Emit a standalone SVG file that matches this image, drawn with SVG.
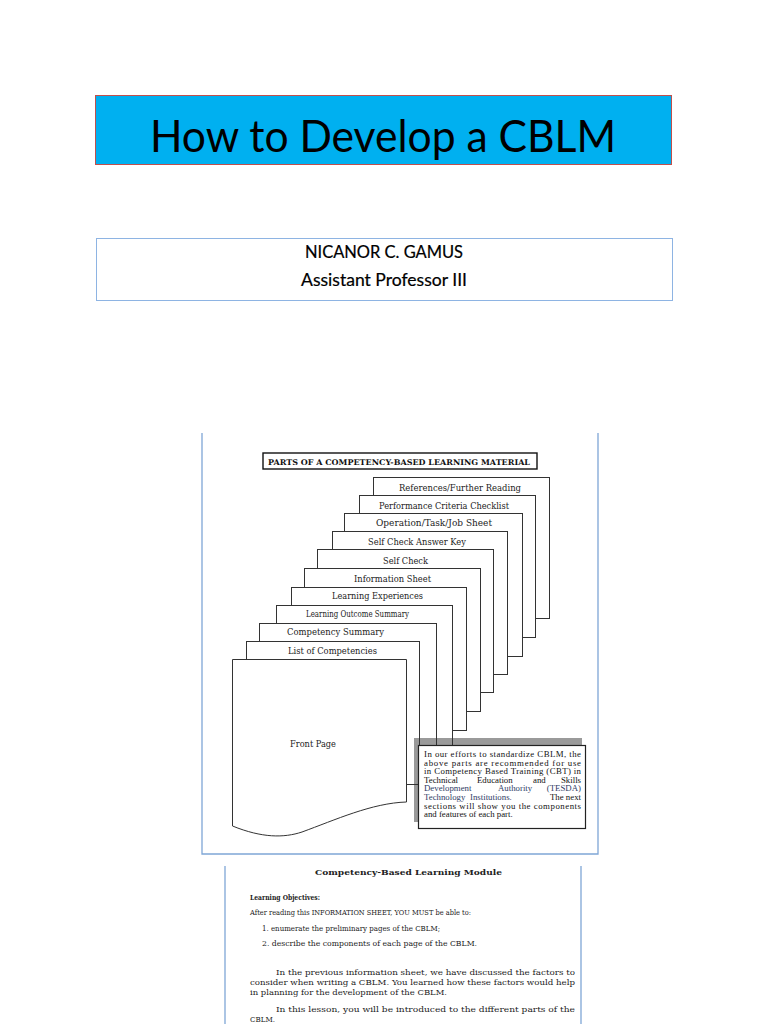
<svg xmlns="http://www.w3.org/2000/svg" width="768" height="1024" viewBox="0 0 768 1024">
<defs>
<style>
.sheet{fill:#fff;stroke:#333;stroke-width:1}
.lbl{font-family:"DejaVu Serif","Liberation Serif",serif;font-size:8.4px;fill:#222}
.doc{font-family:"DejaVu Serif","Liberation Serif",serif;font-size:8.2px;fill:#222}
.frame{stroke:#7FA6D6;stroke-width:1.3;fill:none}
.co{font-family:"Liberation Serif","DejaVu Serif",serif;font-size:8.8px;fill:#111}
.cob{fill:#2F3D66}
.hd{font-family:Lato,"Open Sans","Liberation Sans",sans-serif;fill:#000}
</style>
</defs>
<rect width="768" height="1024" fill="#fff"/>

<g id="title">
<rect x="95.5" y="95.5" width="576" height="69" fill="#00B0F0" stroke="#C0504D" stroke-width="1"/>
<text class="hd" x="383" y="152" text-anchor="middle" font-size="44" textLength="466" lengthAdjust="spacingAndGlyphs">How to Develop a CBLM</text>
</g>

<g id="author">
<rect x="96.5" y="238.5" width="576" height="62" fill="#fff" stroke="#8EB4E3" stroke-width="1"/>
<text class="hd" x="384" y="258" text-anchor="middle" font-size="16.5" stroke="#000" stroke-width="0.2" textLength="158" lengthAdjust="spacingAndGlyphs">NICANOR C. GAMUS</text>
<text class="hd" x="384" y="286" text-anchor="middle" font-size="16.5" stroke="#000" stroke-width="0.2" textLength="166" lengthAdjust="spacingAndGlyphs">Assistant Professor III</text>
</g>

<g id="upper-frame">
<polyline class="frame" points="202,433 202,854 598,854 598,433"/>
</g>

<g id="parts-title">
<rect x="263" y="453" width="274" height="16" fill="#fff" stroke="#111" stroke-width="1.4"/>
<text x="268" y="464.5" font-family="'DejaVu Serif','Liberation Serif',serif" font-size="7.8" font-weight="bold" fill="#111" textLength="262" lengthAdjust="spacingAndGlyphs">PARTS OF A COMPETENCY-BASED LEARNING MATERIAL</text>
</g>

<g id="sheets">
<g id="s-references"><rect class="sheet" x="373.5" y="477.5" width="176" height="141"/><text class="lbl" x="399" y="491" textLength="122" lengthAdjust="spacingAndGlyphs">References/Further Reading</text></g>
<g id="s-performance"><rect class="sheet" x="359.5" y="495.5" width="176" height="142"/><text class="lbl" x="379" y="509" textLength="130" lengthAdjust="spacingAndGlyphs">Performance Criteria Checklist</text></g>
<g id="s-operation"><rect class="sheet" x="344.5" y="513.5" width="178" height="143"/><text class="lbl" x="376" y="525.5" textLength="116" lengthAdjust="spacingAndGlyphs">Operation/Task/Job Sheet</text></g>
<g id="s-answerkey"><rect class="sheet" x="332.5" y="531.5" width="175" height="143"/><text class="lbl" x="368" y="544.5" textLength="98" lengthAdjust="spacingAndGlyphs">Self Check Answer Key</text></g>
<g id="s-selfcheck"><rect class="sheet" x="317.5" y="549.5" width="176" height="143"/><text class="lbl" x="383" y="564" textLength="45" lengthAdjust="spacingAndGlyphs">Self Check</text></g>
<g id="s-information"><rect class="sheet" x="304.5" y="568.5" width="176" height="143"/><text class="lbl" x="354" y="582" textLength="77" lengthAdjust="spacingAndGlyphs">Information Sheet</text></g>
<g id="s-experiences"><rect class="sheet" x="291.5" y="587.5" width="175" height="143"/><text class="lbl" x="332" y="599" textLength="91" lengthAdjust="spacingAndGlyphs">Learning Experiences</text></g>
<g id="s-outcome"><rect class="sheet" x="276.5" y="605.5" width="176" height="143"/><text class="lbl" x="306" y="617" font-size="7" textLength="103" lengthAdjust="spacingAndGlyphs">Learning Outcome Summary</text></g>
<g id="s-competency"><rect class="sheet" x="259.5" y="623.5" width="177" height="143"/><text class="lbl" x="287" y="635" textLength="97" lengthAdjust="spacingAndGlyphs">Competency Summary</text></g>
<g id="s-list"><rect class="sheet" x="246.5" y="641.5" width="173" height="143"/><text class="lbl" x="288" y="654" textLength="89" lengthAdjust="spacingAndGlyphs">List of Competencies</text></g>
<g id="s-front"><path class="sheet" d="M232.5,659.5 H406.5 V802 C372,803 335,820 302,832 C284,838 262,838 232.5,826 Z"/><text class="lbl" x="290" y="747" textLength="46" lengthAdjust="spacingAndGlyphs">Front Page</text></g>
</g>

<g id="callout">
<rect x="414" y="738" width="168" height="84" fill="#9a9a9a"/>
<g stroke="#333" stroke-width="1">
<line x1="419.5" y1="735" x2="419.5" y2="745"/>
<line x1="436.5" y1="735" x2="436.5" y2="745"/>
<line x1="452.5" y1="735" x2="452.5" y2="745"/>
<line x1="406" y1="784.5" x2="418" y2="784.5"/>
</g>
<rect x="418.5" y="745.5" width="167" height="83" fill="#fff" stroke="#222" stroke-width="1.2"/>
<text class="co" x="424" y="757" textLength="157" lengthAdjust="spacing">In our efforts to standardize CBLM, the</text>
<text class="co" x="424" y="765.6" textLength="157" lengthAdjust="spacing">above parts are recommended for use</text>
<text class="co" x="424" y="774.2" textLength="157" lengthAdjust="spacing">in Competency Based Training (CBT) in</text>
<text class="co" y="782.8"><tspan x="424">Technical</tspan><tspan x="477">Education</tspan><tspan x="533">and</tspan><tspan x="581" text-anchor="end">Skills</tspan></text>
<text class="co cob" y="791.4"><tspan x="424">Development</tspan><tspan x="498">Authority</tspan><tspan x="581" text-anchor="end">(TESDA)</tspan></text>
<text class="co cob" y="800"><tspan x="424">Technology</tspan><tspan x="470">Institutions.</tspan><tspan x="581" text-anchor="end" fill="#111">The next</tspan></text>
<text class="co" x="424" y="808.6" textLength="157" lengthAdjust="spacing">sections will show you the components</text>
<text class="co" x="424" y="817.2">and features of each part.</text>
</g>

<g id="lower-page">
<line class="frame" x1="225" y1="866" x2="225" y2="1024"/>
<line class="frame" x1="581" y1="866" x2="581" y2="1024"/>
<text class="doc" x="315" y="875" font-weight="bold" font-size="8.8" textLength="187" lengthAdjust="spacingAndGlyphs">Competency-Based Learning Module</text>
<text class="doc" x="250" y="900" font-weight="bold" textLength="70" lengthAdjust="spacingAndGlyphs">Learning Objectives:</text>
<text class="doc" x="250" y="915" textLength="221" lengthAdjust="spacingAndGlyphs">After reading this INFORMATION SHEET, YOU MUST be able to:</text>
<text class="doc" x="262" y="931" textLength="178" lengthAdjust="spacingAndGlyphs">1.  enumerate the preliminary pages of the CBLM;</text>
<text class="doc" x="262" y="946" textLength="215" lengthAdjust="spacingAndGlyphs">2.  describe the components of each page of the CBLM.</text>
<text class="doc" x="276" y="975" textLength="299" lengthAdjust="spacingAndGlyphs">In the previous information sheet, we have discussed the factors to</text>
<text class="doc" x="250" y="985" textLength="325" lengthAdjust="spacingAndGlyphs">consider when writing a CBLM.  You learned how these factors would help</text>
<text class="doc" x="250" y="995" textLength="197" lengthAdjust="spacingAndGlyphs">in planning for the development of the CBLM.</text>
<text class="doc" x="276" y="1012" textLength="299" lengthAdjust="spacingAndGlyphs">In this lesson, you will be introduced to the different parts of the</text>
<text class="doc" x="250" y="1022" textLength="25" lengthAdjust="spacingAndGlyphs">CBLM.</text>
</g>
</svg>
